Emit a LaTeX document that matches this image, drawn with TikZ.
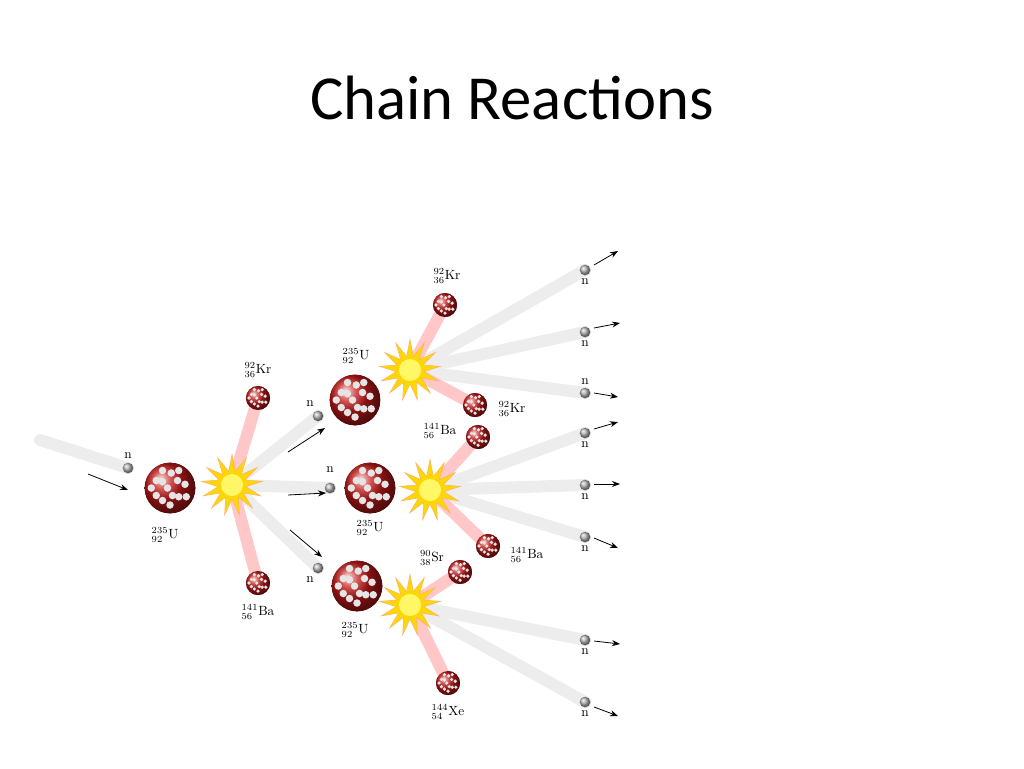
\documentclass[tikz,border=0pt]{standalone}
\usepackage{fontspec}
\newfontfamily\titlefont{Carlito}
\usetikzlibrary{shapes.geometric,arrows.meta,positioning}
\tikzstyle{beam} = [line width=9pt, gray!14, line cap=round]
\tikzstyle{frag} = [line width=9pt, red!22, line cap=round]
\tikzstyle{neut} = [circle, shading=ball, ball color=gray!60, inner sep=0pt, minimum size=8pt]
\tikzstyle{bigU} = [circle, shading=ball, ball color=red!75!black!90, inner sep=0pt, minimum size=38pt]
\tikzstyle{small} = [circle, shading=ball, ball color=red!75!black!90, inner sep=0pt, minimum size=18pt]
\tikzstyle{flash} = [star, star points=13, star point ratio=2.2, fill=yellow!75!orange,
    draw=orange!60, inner sep=0pt, minimum size=46pt]
\tikzstyle{lbl} = [font=\normalsize, inner sep=1pt]
\tikzstyle{mv} = [-{Stealth[length=6pt]}, semithick]
\newcommand{\nuc}[3]{$^{#1}_{#2}$#3}
\newcommand{\speckle}[2]{% gray dots on a nucleus
  \foreach \dx/\dy in {-.55/-.3,.05/-.6,.6/-.15,-.1/0,.35/.35,-.55/.3,0/.68,-.3/-.7,.65/.35,
                       .3/-.3,-.3/.5,.35/-.7,-.75/0,.1/.3,-.3/-.25}
    \fill[gray!20] (#1) ++(\dx*#2,\dy*#2) circle (#2*0.15);}
\begin{document}
\begin{tikzpicture}[x=1pt,y=-1pt,scale=0.75]
  \useasboundingbox (0,0) rectangle (1024,768);
  \node[font=\titlefont\fontsize{47}{54}\selectfont] (title) at (512,98) {Chain Reactions};

  % generation 0
  \coordinate (src) at (40,440);
  \node[neut] (n0) at (128,468) {};
  \node[bigU] (u0) at (170,488) {};
  \coordinate (f0) at (232,485);
  \node[small] (kr0) at (258,398) {};
  \node[small] (ba0) at (258,583) {};
  \node[neut] (n1) at (318,416) {};
  \node[neut] (n2) at (330,488) {};
  \node[neut] (n3) at (318,568) {};
  \node[bigU] (u1) at (355,400) {};
  \node[bigU] (u2) at (370,488) {};
  \node[bigU] (u3) at (357,586) {};
  \coordinate (f1) at (410,370);
  \coordinate (f2) at (430,490);
  \coordinate (f3) at (410,605);
  \node[small] (kr1) at (445,305) {};
  \node[small] (kr2) at (475,405) {};
  \node[small] (ba1) at (478,437) {};
  \node[small] (ba2) at (488,546) {};
  \node[small] (sr1) at (460,572) {};
  \node[small] (xe1) at (448,683) {};
  \foreach \i/\y in {a/270,b/332,c/393,d/433,e/485,f/537,g/640,h/702}
    \node[neut] (m\i) at (585,\y) {};

  % tracks
  \draw[beam] (src) -- (n0.center);
  \foreach \a/\b in {f0/n1,f0/n2,f0/n3,f1/ma,f1/mb,f1/mc,f2/md,f2/me,f2/mf,f3/mg,f3/mh}
    \draw[beam] (\a) -- (\b.center);
  \foreach \a/\b in {f0/kr0,f0/ba0,f1/kr1,f1/kr2,f2/ba1,f2/ba2,f3/sr1,f3/xe1}
    \draw[frag] (\a) -- (\b.center);
  \foreach \f in {f0,f1,f2,f3}
    \node[flash] at (\f) {};
  \foreach \f in {f0,f1,f2,f3}
    \fill[yellow!60] (\f) circle (11);

  % redraw nuclei on top
  \foreach \u in {u0,u1,u2,u3} {\node[bigU] at (\u) {}; \speckle{\u}{25}}
  \foreach \k in {kr0,ba0,kr1,kr2,ba1,ba2,sr1,xe1} {\node[small] at (\k) {}; \speckle{\k}{12}}
  \foreach \m in {n0,n1,n2,n3,ma,mb,mc,md,me,mf,mg,mh} \node[neut] at (\m) {};

  % labels
  \node[lbl, above=2pt of n0] {n};
  \node[lbl] at (310,404) {n};
  \node[lbl] at (330,470) {n};
  \node[lbl] at (310,580) {n};
  \foreach \i in {a,b,d,e,f,g,h} \node[lbl, below=1pt of m\i] {n};
  \node[lbl, above=1pt of mc] {n};
  \node[lbl] at (165,535) {\nuc{235}{92}{U}};
  \node[lbl] at (258,370) {\nuc{92}{36}{Kr}};
  \node[lbl] at (258,612) {\nuc{141}{56}{Ba}};
  \node[lbl] at (356,356) {\nuc{235}{92}{U}};
  \node[lbl] at (370,528) {\nuc{235}{92}{U}};
  \node[lbl] at (355,630) {\nuc{235}{92}{U}};
  \node[lbl] at (447,276) {\nuc{92}{36}{Kr}};
  \node[lbl] at (512,409) {\nuc{92}{36}{Kr}};
  \node[lbl] at (440,431) {\nuc{141}{56}{Ba}};
  \node[lbl] at (527,555) {\nuc{141}{56}{Ba}};
  \node[lbl] at (432,558) {\nuc{90}{38}{Sr}};
  \node[lbl] at (448,712) {\nuc{144}{54}{Xe}};

  % motion arrows
  \draw[mv] (88,474) -- (128,490);
  \draw[mv] (288,452) -- (325,428);
  \draw[mv] (288,495) -- (326,493);
  \draw[mv] (290,530) -- (322,557);
  \draw[mv] (594,265) -- (618,251);
  \draw[mv] (594,328) -- (620,323);
  \draw[mv] (594,393) -- (618,397);
  \draw[mv] (594,429) -- (618,422);
  \draw[mv] (594,484) -- (620,484);
  \draw[mv] (594,538) -- (618,548);
  \draw[mv] (594,641) -- (620,644);
  \draw[mv] (594,707) -- (618,716);
\end{tikzpicture}
\end{document}
